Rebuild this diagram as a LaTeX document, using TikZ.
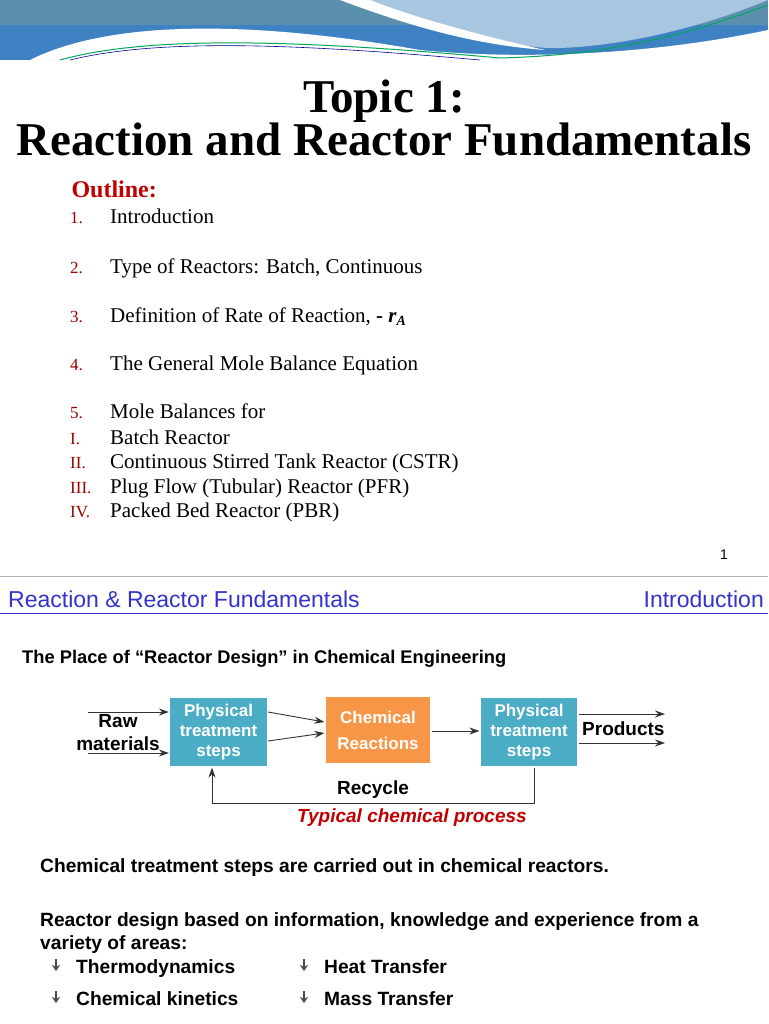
\documentclass[tikz,border=0pt]{standalone}
\usepackage{fontspec}
\setmainfont{Liberation Serif}
\newfontfamily\arialf{Liberation Sans}
\usetikzlibrary{arrows.meta}
\definecolor{teal1}{HTML}{4BACC6}
\definecolor{orng}{HTML}{F79646}
\definecolor{dred}{HTML}{C00000}
\definecolor{lnk}{HTML}{3333CC}
\definecolor{bn1}{HTML}{5A8FAE}
\definecolor{bn2}{HTML}{3F82C4}
\definecolor{bn3}{HTML}{A9C6E0}
\begin{document}
\begin{tikzpicture}[x=1pt,y=-1pt,
  box/.style={draw=white,line width=1.2pt,minimum width=98pt,minimum height=70pt,align=center,text=white,font=\arialf\bfseries\fontsize{17}{20}\selectfont},
  arr/.style={-{Stealth[length=10pt,width=7pt]},line width=0.9pt,draw=black!80},
  lst/.style={anchor=base west,font=\fontsize{21}{22}\selectfont},
  bul/.style={anchor=base west,font=\arialf\bfseries\fontsize{19.2}{22}\selectfont}]
\useasboundingbox (0,0) rectangle (768,1024);
\fill[white] (0,0) rectangle (768,1024);
% banner
\fill[bn1] (0,0) rectangle (768,60);
\fill[bn2] (0,25) rectangle (768,60);
\fill[bn3] (345,0) .. controls (450,30) and (520,50) .. (560,48) .. controls (640,45) and (720,20) .. (768,0) -- cycle;
\fill[white] (340,0) .. controls (420,30) and (480,45) .. (545,50) .. controls (500,40) and (420,20) .. (370,0) -- cycle;
\fill[white] (30,60) .. controls (110,20) and (250,20) .. (420,50) .. controls (520,60) and (650,55) .. (768,30) -- (768,60) -- cycle;
\draw[teal!70!green,line width=1pt] (60,60) .. controls (150,35) and (300,40) .. (500,58) .. controls (620,55) and (700,30) .. (768,5);
\draw[blue!60!black,line width=0.6pt] (70,60) .. controls (160,38) and (300,44) .. (480,60);
% slide 1
\node[font=\bfseries\fontsize{47}{50}\selectfont,anchor=base,inner sep=0] (t1) at (384,113) {Topic 1:};
\node[font=\bfseries\fontsize{47}{50}\selectfont,anchor=base,inner sep=0] (t2) at (384,156) {Reaction and Reactor Fundamentals};
\node[anchor=base west,font=\bfseries\fontsize{24}{26}\selectfont,text=dred] (ol) at (68,198) {Outline:};
\foreach \n/\t/\y [count=\i] in {1./Introduction/224, 2./{Type of Reactors: Batch, Continuous}/273, 3./{Definition of Rate of Reaction, \textbf{- \textit{r}\raisebox{-3pt}{\fontsize{14}{14}\selectfont\textit{A}}}}/322, 4./The General Mole Balance Equation/370, 5./Mole Balances for/418, I./Batch Reactor/444, II./Continuous Stirred Tank Reactor (CSTR)/468, III./Plug Flow (Tubular) Reactor (PFR)/493, IV./Packed Bed Reactor (PBR)/517}{
  \node[lst,font=\fontsize{17}{20}\selectfont,text=dred!80!black,inner sep=0] (n\i) at (70,\y) {\n};
  \node[lst,inner sep=0] (l\i) at (110,\y) {\t};
}
\node[anchor=base,font=\arialf\fontsize{14}{15}\selectfont] (pg) at (724,559) {1};
% slide 2
\draw[black!30] (0,576) -- (768,576);
\node[anchor=base west,font=\arialf\fontsize{23}{24}\selectfont,text=lnk,inner sep=0] (h1) at (8,607) {Reaction \& Reactor Fundamentals};
\node[anchor=base east,font=\arialf\fontsize{23}{24}\selectfont,text=lnk,inner sep=0] (h2) at (764,607) {Introduction};
\draw[lnk,line width=0.7pt] (0,613) -- (768,613);
\node[anchor=base west,font=\arialf\bfseries\fontsize{18.3}{20}\selectfont,inner sep=0] (tp) at (22,663) {The Place of “Reactor Design” in Chemical Engineering};
\node[box,fill=teal1] (b1) at (218.5,732) {Physical\\treatment\\steps};
\node[box,fill=orng,minimum width=106pt,minimum height=68pt] (b2) at (378,730) {Chemical\\[6pt]Reactions};
\node[box,fill=teal1] (b3) at (529,732) {Physical\\treatment\\steps};
\coordinate (r1) at (88,712); \coordinate (r2) at (88,753);
\draw[arr] (r1) -- (b1.west|-r1);
\draw[arr] (r2) -- (b1.west|-r2);
\node[font=\arialf\bfseries\fontsize{19}{23}\selectfont,align=center,inner sep=0] (raw) at (118,733) {Raw\\materials};
\draw[arr] (b1.east|-0,712) -- (b2.west|-0,722);
\draw[arr] (b1.east|-0,741) -- (b2.west|-0,733);
\draw[arr] (b2.east|-0,731) -- (b3.west|-0,731);
\coordinate (p1) at (665,714); \coordinate (p2) at (665,743);
\draw[arr] (b3.east|-p1) -- (p1);
\draw[arr] (b3.east|-p2) -- (p2);
\node[anchor=west,font=\arialf\bfseries\fontsize{19}{19}\selectfont,inner sep=0] (prod) at (582,729) {Products};
\coordinate (c1) at (534,803); \coordinate (c2) at (212,803);
\draw[arr] (b3.south-|c1) -- (c1) -- (c2) -- (b1.south-|c2);
\node[font=\arialf\bfseries\fontsize{19}{19}\selectfont,inner sep=0] (rec) at (373,790) {Recycle};
\node[font=\arialf\bfseries\itshape\fontsize{19}{19}\selectfont,text=dred,inner sep=0] (typ) at (412,818) {Typical chemical process};
\node[bul,inner sep=0] (s1) at (40,872) {Chemical treatment steps are carried out in chemical reactors.};
\node[bul,inner sep=0] (s2) at (40,926) {Reactor design based on information, knowledge and experience from a};
\node[bul,inner sep=0] (s3) at (40,949) {variety of areas:};
\foreach \t/\x/\y [count=\i] in {Thermodynamics/76/973, Heat Transfer/324/973, Chemical kinetics/76/1005, Mass Transfer/324/1005}{
  \node[bul,inner sep=0] (a\i) at (\x,\y) {\t};
  \draw[-{Stealth[length=6pt,width=8pt]},black!70,line width=1.4pt] (\x-20,\y-14) -- (\x-20,\y-2);
}
\end{tikzpicture}
\end{document}
